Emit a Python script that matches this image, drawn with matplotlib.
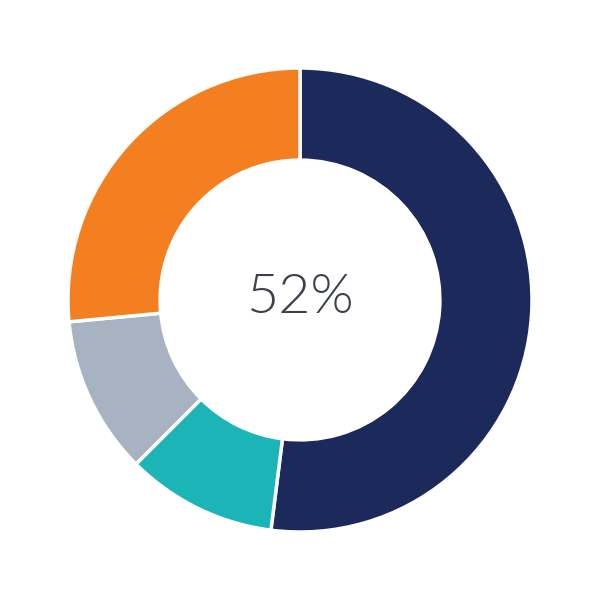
import matplotlib
matplotlib.use('Agg')
import matplotlib.pyplot as plt

labels = ['Navy', 'Teal', 'Gray', 'Orange']
values = [52, 10.5, 11, 26.5]
colors = ['#1b2a5b', '#1bb5b7', '#a8b3c1', '#f47f20']
center_label = '52%'

fig = plt.figure(figsize=(6, 6), dpi=100)
ax = fig.add_axes([0, 0, 1, 1])
ax.pie(values, colors=colors, startangle=90, counterclock=False,
       radius=1.0, wedgeprops=dict(width=0.397, edgecolor='white', linewidth=2.5))
ax.text(0, 0.01, center_label, ha='center', va='center', fontsize=40,
        family=['Lato', 'DejaVu Sans'], fontweight=300, color='#3a404c')
lim = 300 / 232
ax.set_xlim(-lim, lim)
ax.set_ylim(-lim, lim)
ax.set_aspect('equal')
ax.axis('off')
fig.savefig('out.png', dpi=100, facecolor='white')
